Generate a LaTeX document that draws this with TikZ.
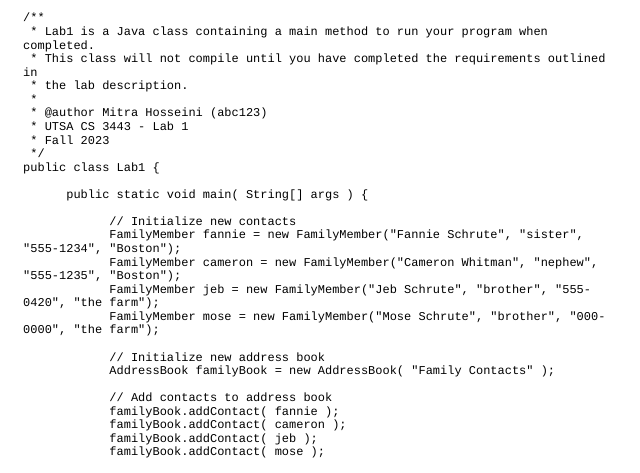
\documentclass[tikz,border=0pt]{standalone}
\usepackage{fontspec}
\newfontfamily\code{Liberation Mono}
\newcommand\cl[3]{\node[anchor=base west,inner sep=0pt,font=\code\fontsize{11.98pt}{13pt}\selectfont] at ({23+#1*7.19},{472-(22+(#2-1)*13.56)}) {#3};}
\begin{document}
\begin{tikzpicture}[x=1pt,y=1pt]
\useasboundingbox[fill=white] (0,0) rectangle (640,472);
\cl{0}{1}{/**}
\cl{1}{2}{* Lab1 is a Java class containing a main method to run your program when}
\cl{0}{3}{completed.}
\cl{1}{4}{* This class will not compile until you have completed the requirements outlined}
\cl{0}{5}{in}
\cl{1}{6}{* the lab description.}
\cl{1}{7}{*}
\cl{1}{8}{* @author Mitra Hosseini (abc123)}
\cl{1}{9}{* UTSA CS 3443 - Lab 1}
\cl{1}{10}{* Fall 2023}
\cl{1}{11}{*/}
\cl{0}{12}{public class Lab1 \{}
\cl{6}{14}{public static void main( String[] args ) \{}
\cl{12}{16}{// Initialize new contacts}
\cl{12}{17}{FamilyMember fannie = new FamilyMember("Fannie Schrute", "sister",}
\cl{0}{18}{"555-1234", "Boston");}
\cl{12}{19}{FamilyMember cameron = new FamilyMember("Cameron Whitman", "nephew",}
\cl{0}{20}{"555-1235", "Boston");}
\cl{12}{21}{FamilyMember jeb = new FamilyMember("Jeb Schrute", "brother", "555-}
\cl{0}{22}{0420", "the farm");}
\cl{12}{23}{FamilyMember mose = new FamilyMember("Mose Schrute", "brother", "000-}
\cl{0}{24}{0000", "the farm");}
\cl{12}{26}{// Initialize new address book}
\cl{12}{27}{AddressBook familyBook = new AddressBook( "Family Contacts" );}
\cl{12}{29}{// Add contacts to address book}
\cl{12}{30}{familyBook.addContact( fannie );}
\cl{12}{31}{familyBook.addContact( cameron );}
\cl{12}{32}{familyBook.addContact( jeb );}
\cl{12}{33}{familyBook.addContact( mose );}
\end{tikzpicture}
\end{document}
